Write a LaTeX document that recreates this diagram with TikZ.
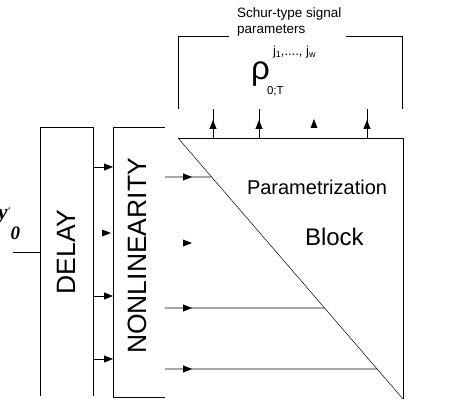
\documentclass[tikz,border=0pt]{standalone}
\usepackage{fontspec}
\setmainfont{Liberation Sans}
\newfontfamily\serifbi{Liberation Serif}
\usepackage{tikz}
\usetikzlibrary{arrows.meta}
\usetikzlibrary{positioning}
\usetikzlibrary{calc}
\usetikzlibrary{decorations.markings}

\tikzset{
  headarrow/.style={-{Triangle[length=9pt,width=7pt]}},
  midarrow/.style={postaction={decorate},
    decoration={markings,mark=at position #1 with {\arrow{Triangle[length=9pt,width=7pt]}}}},
  txt/.style={inner sep=0pt,outer sep=0pt},
}

\begin{document}
\begin{tikzpicture}[x=1pt,y=-1pt,line width=0.9pt]
\useasboundingbox (0,0) rectangle (474,406);

% delay and nonlinearity boxes
\draw (40,396) |- (93,127) -- (93,396);
\draw (165,127) -| (113,397) -- (165,397);
\node[txt,rotate=90,anchor=base,font=\fontsize{26.5}{26.5}\selectfont] (delay) at (75,252) {DELAY};
\node[txt,rotate=90,anchor=base,font=\fontsize{26.5}{26.5}\selectfont] (nonlin) at (146,256) {NONLINEARITY};

% parametrization block
\coordinate (tl) at (178,138);
\coordinate (tr) at (403,138);
\coordinate (br) at (403,399);
\draw (br) -- (tr) -- (tl);
\draw[line width=0.5pt] (tl) -- (br);
\node[txt,anchor=base west,font=\fontsize{20}{20}\selectfont] (param) at (247,195) {Parametrization};
\node[txt,anchor=base west,font=\fontsize{24}{24}\selectfont] (block) at (305,246) {Block};

% input
\node[txt,anchor=base west,font=\serifbi\bfseries\itshape\fontsize{22}{22}\selectfont] (yin)
  at (-2,220) {y\raisebox{5pt}{\fontsize{10}{10}\selectfont\char"2032}\raisebox{-20pt}{\fontsize{19}{19}\selectfont 0}};
\coordinate (ystart) at (13,252);
\coordinate (yend) at (40,252);
\draw (ystart) -- (yend);

% delay -> nonlinearity
\foreach \y [count=\i] in {167,296,359} {
  \coordinate (dout\i) at (93,\y);
  \coordinate (nin\i) at (113,\y);
  \draw[headarrow] (dout\i) -- (nin\i);
}
\fill (111,233) -- (102,229.5) -- (102,236.5) -- cycle;

% nonlinearity -> block
\foreach \y [count=\i] in {177,308,369} {
  \coordinate (nout\i) at (165,\y);
  \coordinate (hit\i) at ($(tl)!{(\y-138)/261}!(br)$);
  \draw[midarrow=27pt] (nout\i) -- (hit\i);
}
\fill (192,243) -- (183,239.5) -- (183,246.5) -- cycle;

% block -> parameters
\foreach \x [count=\i] in {213,259,367} {
  \coordinate (bout\i) at (\x,138);
  \coordinate (brk\i) at (\x,109);
  \draw[midarrow=18pt] (bout\i) -- (brk\i);
}
\fill (314,119) -- (317.5,128) -- (310.5,128) -- cycle;

% bracket and parameter label
\draw (178,109) |- (229,36);
\draw (346,36) -| (402,109);
\node[txt,anchor=base west,font=\fontsize{13.5}{13.5}\selectfont] (schur) at (237,18) {Schur-type signal};
\node[txt,anchor=base west,font=\fontsize{13.5}{13.5}\selectfont] (params) at (237,34) {parameters};
\node[txt,anchor=base west,font=\fontsize{33}{33}\selectfont] (rho) at (251,80) {ρ};
\node[txt,anchor=base west,font=\fontsize{13}{13}\selectfont] (supidx) at (273,56)
  {j\raisebox{-2pt}{\fontsize{9}{9}\selectfont 1},...., j\raisebox{-2pt}{\fontsize{9}{9}\selectfont w}};
\node[txt,anchor=base west,font=\fontsize{11.5}{11.5}\selectfont] (subidx) at (267,95) {0;T};
\end{tikzpicture}
\end{document}
